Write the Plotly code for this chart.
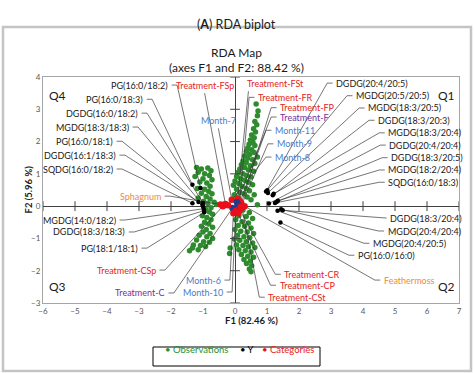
import plotly.graph_objects as go

# ---------------- data ----------------
obs_left = [(-1.20, 1.20), (-1.05, 1.15), (-0.85, 1.18), (-0.75, 1.10), (-1.15, 1.05), (-0.95, 1.00),
            (-0.80, 0.95), (-1.25, 0.92), (-1.00, 0.85), (-0.72, 0.82), (-1.10, 0.75), (-0.88, 0.72),
            (-0.78, 0.62), (-1.18, 0.55), (-0.95, 0.52), (-0.82, 0.45), (-1.05, 0.40), (-0.72, 0.38),
            (-0.90, 0.30), (-1.15, 0.25), (-0.78, 0.22), (-0.98, 0.15), (-0.65, 0.12), (-0.85, 0.08),
            (-0.58, 0.05), (-0.75, -0.05), (-0.92, -0.10), (-0.80, -0.18), (-0.70, -0.25), (-1.02, -0.30),
            (-0.88, -0.35), (-0.75, -0.42), (-0.95, -0.50), (-0.82, -0.55), (-1.05, -0.62), (-0.70, -0.65),
            (-0.90, -0.72), (-1.00, -0.80), (-0.78, -0.85), (-1.12, -0.90), (-0.88, -0.95), (-0.70, -1.00),
            (-1.20, -1.05), (-0.98, -1.10), (-0.80, -1.12), (-1.30, -1.20), (-1.08, -1.22), (-0.92, -1.25),
            (-1.33, -1.30), (-1.15, -1.35), (-1.42, -1.38)]
obs_upper = [(0.66, 3.16), (0.72, 2.95), (0.70, 2.80), (0.62, 2.62), (0.68, 2.52), (0.58, 2.40),
             (0.64, 2.30), (0.52, 2.20), (0.60, 2.12), (0.48, 2.05), (0.56, 1.98), (0.44, 1.92),
             (0.62, 1.88), (0.40, 1.80), (0.52, 1.75), (0.36, 1.70), (0.60, 1.66), (0.46, 1.60),
             (0.30, 1.55), (0.70, 1.52), (0.40, 1.48), (0.55, 1.44), (0.25, 1.40), (0.35, 1.35),
             (0.62, 1.32), (0.20, 1.28), (0.48, 1.25), (0.30, 1.20), (0.15, 1.15), (0.42, 1.12),
             (0.58, 1.08), (0.10, 1.05), (0.25, 1.00), (0.36, 0.95), (0.05, 0.92), (0.50, 0.90),
             (0.18, 0.85), (0.30, 0.80), (0.00, 0.78), (0.42, 0.74), (0.12, 0.70), (0.55, 0.66),
             (0.22, 0.62), (0.35, 0.55), (0.05, 0.52), (0.45, 0.48), (0.15, 0.42), (0.28, 0.38),
             (0.60, 0.35), (0.38, 0.28), (0.10, 0.25), (0.50, 0.20), (0.70, 0.04), (-0.05, 0.65),
             (-0.02, 0.35)]
obs_lower = [(0.05, -0.15), (0.25, -0.12), (0.45, -0.20), (0.12, -0.30), (0.35, -0.32), (0.55, -0.38),
             (0.02, -0.42), (0.22, -0.48), (0.42, -0.52), (0.10, -0.60), (0.30, -0.62), (0.50, -0.68),
             (0.00, -0.72), (0.18, -0.78), (0.38, -0.80), (0.58, -0.85), (0.08, -0.90), (0.28, -0.95),
             (0.46, -0.98), (-0.02, -1.02), (0.15, -1.06), (0.35, -1.10), (0.55, -1.14), (0.05, -1.20),
             (0.25, -1.22), (0.42, -1.26), (0.62, -1.28), (-0.15, -1.30), (0.12, -1.35), (0.32, -1.38),
             (0.50, -1.42), (-0.17, -1.47), (0.20, -1.50), (0.40, -1.55), (0.58, -1.58), (0.28, -1.65),
             (0.48, -1.70), (0.36, -1.78), (0.52, -1.85), (0.45, -1.95), (0.50, -2.03)]

y_names = ["DGDG(20:4/20:5)", "MGDG(20:5/20:5)", "MGDG(18:3/20:5)", "DGDG(18:3/20:3)",
           "MGDG(18:3/20:4)", "DGDG(20:4/20:4)", "DGDG(18:3/20:5)", "MGDG(18:2/20:4)",
           "SQDG(16:0/18:3)", "DGDG(18:3/20:4)", "MGDG(20:4/20:4)", "MGDG(20:4/20:5)",
           "PG(16:0/16:0)", "PG(16:0/18:2)", "PG(16:0/18:3)", "DGDG(16:0/18:2)",
           "MGDG(18:3/18:3)", "PG(16:0/18:1)", "DGDG(16:1/18:3)", "SQDG(16:0/18:2)",
           "MGDG(14:0/18:2)", "DGDG(18:3/18:3)", "PG(18:1/18:1)"]
y_f1 = [0.97, 1.01, 1.03, 1.18, 1.21, 1.06, 1.30, 1.34, 1.25, 1.49, 1.44, 1.33, 1.42,
        -1.08, -1.33, -1.00, -1.02, -1.00, -1.14, -1.33, -0.98, -0.97, -0.96]
y_f2 = [0.45, 0.49, 0.41, 0.34, 0.38, 0.08, 0.13, 0.17, 0.10, -0.13, -0.10, -0.14, -0.51,
        0.56, 0.66, 0.10, 0.05, 0.00, 0.13, 0.09, -0.08, -0.14, -0.19]

cat_names = ["Sphagnum", "Treatment-CSp", "Treatment-FSp", "Treatment-C", "Month-6", "Month-10",
             "Treatment-CR", "Treatment-CP", "Treatment-CSt", "Feathermoss", "Month-7",
             "Treatment-FSt", "Treatment-FR", "Treatment-FP", "Treatment-F", "Month-11",
             "Month-9", "Month-8"]
cat_f1 = [-0.45, -0.38, -0.30, -0.08, -0.05, 0.02, 0.15, 0.10, 0.22, 0.30, -0.10,
          0.08, 0.15, 0.20, 0.06, 0.12, 0.18, -0.22]
cat_f2 = [0.05, 0.00, 0.07, -0.06, -0.22, -0.15, -0.12, -0.22, -0.05, 0.00, 0.20,
          0.22, 0.15, 0.08, 0.12, 0.02, -0.02, 0.03]

x_ticks = list(range(-6, 8))
y_ticks = list(range(-3, 5))

# label placement (layout): name, line start f1, f2, side
label_layout = [
    ("DGDG(20:4/20:5)", 3.05, 3.81, "R"), ("MGDG(20:5/20:5)", 3.67, 3.42, "R"),
    ("MGDG(18:3/20:5)", 4.05, 3.04, "R"), ("DGDG(18:3/20:3)", 4.36, 2.66, "R"),
    ("MGDG(18:3/20:4)", 4.68, 2.27, "R"), ("DGDG(20:4/20:4)", 4.71, 1.89, "R"),
    ("DGDG(18:3/20:5)", 4.77, 1.50, "R"), ("MGDG(18:2/20:4)", 4.68, 1.12, "R"),
    ("SQDG(16:0/18:3)", 4.68, 0.74, "R"), ("DGDG(18:3/20:4)", 4.74, -0.37, "R"),
    ("MGDG(20:4/20:4)", 4.66, -0.77, "R"), ("MGDG(20:4/20:5)", 4.20, -1.15, "R"),
    ("PG(16:0/16:0)", 3.73, -1.52, "R"), ("Feathermoss", 4.54, -2.29, "R"),
    ("Treatment-CR", 1.43, -2.11, "R"), ("Treatment-CP", 1.28, -2.45, "R"),
    ("Treatment-CSt", 0.93, -2.82, "R"), ("Treatment-FR", 0.61, 3.37, "R"),
    ("Treatment-FP", 1.30, 3.05, "R"), ("Treatment-F", 1.30, 2.76, "R"),
    ("Month-11", 1.14, 2.35, "R"), ("Month-9", 1.20, 1.93, "R"), ("Month-8", 1.14, 1.52, "R"),
    ("PG(16:0/18:2)", -1.98, 3.75, "L"), ("PG(16:0/18:3)", -2.76, 3.31, "L"),
    ("DGDG(16:0/18:2)", -2.92, 2.88, "L"), ("MGDG(18:3/18:3)", -3.20, 2.45, "L"),
    ("PG(16:0/18:1)", -3.70, 2.01, "L"), ("DGDG(16:1/18:3)", -3.61, 1.58, "L"),
    ("SQDG(16:0/18:2)", -3.70, 1.15, "L"), ("Sphagnum", -2.20, 0.31, "L"),
    ("MGDG(14:0/18:2)", -3.61, -0.43, "L"), ("DGDG(18:3/18:3)", -3.32, -0.80, "L"),
    ("PG(18:1/18:1)", -2.92, -1.30, "L"), ("Treatment-CSp", -2.36, -1.98, "L"),
    ("Treatment-C", -2.08, -2.69, "L"), ("Month-6", -0.33, -2.29, "L"),
    ("Month-10", -0.26, -2.66, "L"),
    ("Treatment-FSp", -0.95, 3.50, "T"), ("Month-7", -0.52, 2.41, "T"),
    ("Treatment-FSt", 0.42, 3.56, "TL"),
]

FONT = "Lato"
GREEN = "#2e8b2e"
RED_TXT = "#e32222"
PURPLE = "#7030a0"
BLUE = "#4a7cc7"
ORANGE = "#ed8b3a"


def label_color(n):
    if n in ("Treatment-F", "Treatment-C"):
        return PURPLE
    if n.startswith("Treatment"):
        return RED_TXT
    if n.startswith("Month"):
        return BLUE
    if n in ("Sphagnum", "Feathermoss"):
        return ORANGE
    return "#1a1a1a"


def target(n):
    if n in y_names:
        i = y_names.index(n)
        return y_f1[i], y_f2[i]
    i = cat_names.index(n)
    return cat_f1[i], cat_f2[i]


fig = go.Figure()

obs_all = obs_left + obs_upper + obs_lower
fig.add_trace(go.Scatter(x=[p[0] for p in obs_all], y=[p[1] for p in obs_all], mode="markers",
                         marker=dict(color=GREEN, size=5.5), hoverinfo="skip", showlegend=False))

# leader lines
lx, ly = [], []
annotations = []
for name, sx, sy, side in label_layout:
    tx, ty = target(name)
    pts = [(tx, ty)]
    if side == "R":
        pts.append((sx - 0.17, sy))
    elif side == "L":
        pts.append((sx + 0.17, sy))
    pts.append((sx, sy))
    for p in pts:
        lx.append(p[0]); ly.append(p[1])
    lx.append(None); ly.append(None)
    col = label_color(name)
    if side == "R":
        annotations.append(dict(x=sx + 0.05, y=sy, text=name, xanchor="left", yanchor="middle",
                                showarrow=False, font=dict(family=FONT, size=9, color=col)))
    elif side == "L":
        annotations.append(dict(x=sx - 0.05, y=sy, text=name, xanchor="right", yanchor="middle",
                                showarrow=False, font=dict(family=FONT, size=9, color=col)))
    elif side == "T":
        annotations.append(dict(x=sx, y=sy + 0.02, text=name, xanchor="center", yanchor="bottom",
                                showarrow=False, font=dict(family=FONT, size=9, color=col)))
    else:
        annotations.append(dict(x=sx - 0.1, y=sy + 0.02, text=name, xanchor="left", yanchor="bottom",
                                showarrow=False, font=dict(family=FONT, size=9, color=col)))

fig.add_trace(go.Scatter(x=lx, y=ly, mode="lines", line=dict(color="#3a3a3a", width=0.7),
                         hoverinfo="skip", showlegend=False))

# axis tick marks on the zero lines
fig.add_trace(go.Scatter(x=x_ticks, y=[0] * len(x_ticks), mode="markers",
                         marker=dict(symbol="line-ns", size=7, line=dict(color="#404040", width=1)),
                         hoverinfo="skip", showlegend=False, cliponaxis=False))
fig.add_trace(go.Scatter(x=[0] * len(y_ticks), y=y_ticks, mode="markers",
                         marker=dict(symbol="line-ew", size=7, line=dict(color="#404040", width=1)),
                         hoverinfo="skip", showlegend=False, cliponaxis=False))

cat_cols = ["#1f3d8c" if n in ("Treatment-F", "Treatment-C", "Month-11") else "#e8101a" for n in cat_names]
fig.add_trace(go.Scatter(x=cat_f1, y=cat_f2, mode="markers", marker=dict(color=cat_cols, size=6.5),
                         hoverinfo="skip", showlegend=False))
fig.add_trace(go.Scatter(x=y_f1, y=y_f2, mode="markers", marker=dict(color="#000000", size=4.5),
                         hoverinfo="skip", showlegend=False))

# layout helpers (pixel -> paper)
ML, MT, PW, PH = 43, 77, 416, 226


def pxx(xp):
    return (xp - ML) / PW


def pyy(yp):
    return (MT + PH - yp) / PH


annotations += [
    dict(x=pxx(236), y=pyy(15), xref="paper", yref="paper", text="(<b>A</b>) RDA biplot",
         showarrow=False, font=dict(family=FONT, size=12.5, color="#1a1a1a")),
    dict(x=pxx(236), y=pyy(43), xref="paper", yref="paper", text="RDA Map",
         showarrow=False, font=dict(family=FONT, size=12, color="#1a1a1a")),
    dict(x=pxx(236), y=pyy(58), xref="paper", yref="paper", text="(axes F1 and F2: 88.42 %)",
         showarrow=False, font=dict(family=FONT, size=12, color="#1a1a1a")),
    dict(x=pxx(251), y=pyy(328), xref="paper", yref="paper", text="<b>F1 (82.46 %)</b>",
         showarrow=False, font=dict(family=FONT, size=9.5, color="#1a1a1a")),
    dict(x=pxx(20), y=pyy(190), xref="paper", yref="paper", text="<b>F2 (5.96 %)</b>", textangle=-90,
         showarrow=False, font=dict(family=FONT, size=9.5, color="#1a1a1a")),
    dict(x=pxx(47), y=pyy(86), xref="paper", yref="paper", text="Q4", xanchor="left",
         showarrow=False, font=dict(family=FONT, size=12, color="#1a1a1a")),
    dict(x=pxx(457), y=pyy(86), xref="paper", yref="paper", text="Q1", xanchor="right",
         showarrow=False, font=dict(family=FONT, size=12, color="#1a1a1a")),
    dict(x=pxx(47), y=pyy(296), xref="paper", yref="paper", text="Q3", xanchor="left",
         showarrow=False, font=dict(family=FONT, size=12, color="#1a1a1a")),
    dict(x=pxx(457), y=pyy(296), xref="paper", yref="paper", text="Q2", xanchor="right",
         showarrow=False, font=dict(family=FONT, size=12, color="#1a1a1a")),
    # legend
    dict(x=pxx(163), y=pyy(356.5), xref="paper", yref="paper", xanchor="left",
         text="<span style='color:%s'>•</span> <span style='color:%s'>Observations</span>" % (GREEN, GREEN),
         showarrow=False, font=dict(family=FONT, size=9.5)),
    dict(x=pxx(238), y=pyy(356.5), xref="paper", yref="paper", xanchor="left",
         text="• Y", showarrow=False, font=dict(family=FONT, size=9.5, color="#000000")),
    dict(x=pxx(260), y=pyy(356.5), xref="paper", yref="paper", xanchor="left",
         text="<span style='color:#e8101a'>•</span> <span style='color:#e32222'>Categories</span>",
         showarrow=False, font=dict(family=FONT, size=9.5)),
]

shapes = [
    dict(type="rect", xref="paper", yref="paper", x0=pxx(3), x1=pxx(471), y0=pyy(371), y1=pyy(27),
         line=dict(color="#c4c4c4", width=2.5)),
    dict(type="rect", xref="paper", yref="paper", x0=pxx(153), x1=pxx(320), y0=pyy(366), y1=pyy(347),
         line=dict(color="#000000", width=1)),
]

fig.update_layout(
    width=474, height=373,
    margin=dict(l=ML, r=474 - ML - PW, t=MT, b=373 - MT - PH),
    paper_bgcolor="white", plot_bgcolor="white",
    showlegend=False, hovermode=False,
    font=dict(family=FONT),
    annotations=annotations, shapes=shapes,
    xaxis=dict(range=[-6, 7], tickvals=x_ticks, showgrid=False, zeroline=True,
               zerolinecolor="#404040", zerolinewidth=1, showline=True, mirror=True,
               linecolor="#a6a6a6", linewidth=1, ticks="",
               tickfont=dict(family=FONT, size=8, color="#595959")),
    yaxis=dict(range=[-3, 4], tickvals=y_ticks, showgrid=False, zeroline=True,
               zerolinecolor="#404040", zerolinewidth=1, showline=True, mirror=True,
               linecolor="#a6a6a6", linewidth=1, ticks="",
               tickfont=dict(family=FONT, size=8, color="#595959")),
)

fig.write_html("out.html", config={"displayModeBar": False},
               post_script="document.body.style.margin='0';document.body.style.overflow='hidden';")
